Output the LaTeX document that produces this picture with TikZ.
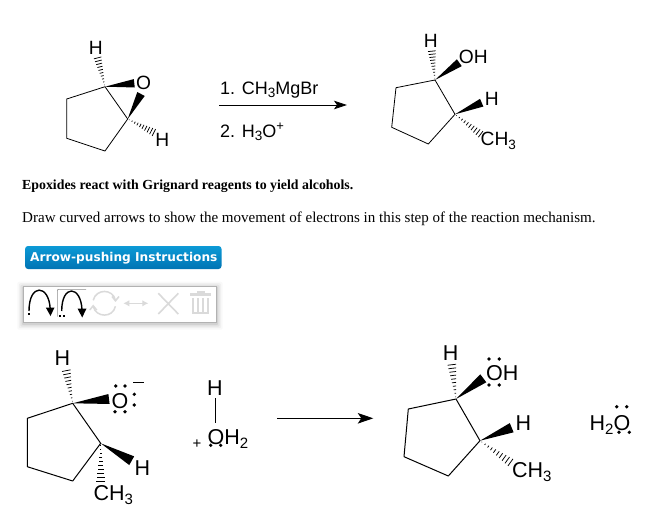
\documentclass[tikz,border=0pt]{standalone}
\usepackage{fontspec}
\setmainfont{Liberation Serif}
\newfontfamily\chemfont{Liberation Sans}
\newfontfamily\btnfont{DejaVu Sans}
\usetikzlibrary{calc,arrows.meta}
\definecolor{btnTop}{HTML}{0C9AD6}
\definecolor{btnBot}{HTML}{0074B4}
\definecolor{iconGray}{HTML}{DADADA}
\newcommand{\sbs}[1]{\raisebox{-3.5pt}{\fontsize{13.5}{13.5}\selectfont #1}}
\newcommand{\sbb}[1]{\raisebox{-4pt}{\fontsize{15}{15}\selectfont #1}}
\newcommand{\sps}[1]{\raisebox{6.5pt}{\fontsize{13}{13}\selectfont #1}}
\newcommand{\wedgebond}[3]{\fill ($(#2)!#3!90:(#1)$) -- (#1) -- ($(#2)!#3!-90:(#1)$) -- cycle;}
\newcommand{\hashbond}[3]{\foreach \t in {0.06,0.16,...,1.01}{\draw[line width=0.75pt]
  ($(#1)!\t!(#2)!\t*#3!90:(#2)$) -- ($(#1)!\t!(#2)!\t*#3!-90:(#2)$);}}
\newcommand{\lp}[2]{\fill (#1,#2) circle (1.85pt);}
\tikzset{
  x=1pt,y=-1pt,
  atomlabel/.style={inner sep=0pt,text height=13.6pt,text depth=0pt,font=\chemfont\fontsize{19.2}{19.2}\selectfont},
  atomlarge/.style={inner sep=0pt,text height=15.2pt,text depth=0pt,font=\chemfont\fontsize{21.5}{21.5}\selectfont},
  reagent/.style={anchor=west,inner sep=0pt,text height=12.9pt,text depth=0pt,font=\chemfont\fontsize{18}{18}\selectfont},
  bond/.style={line width=0.8pt,line join=round},
  bondlarge/.style={line width=1pt,line join=round},
  topcarrow/.style={line width=0.8pt,-{Stealth[length=13pt,width=8.5pt,inset=3pt]}},
  reactarrow/.style={line width=1.1pt,-{Stealth[length=15.5pt,width=10.5pt,inset=3.5pt]}},
  bodytext/.style={anchor=base west,inner sep=0pt},
  iconblack/.style={line width=1.4pt},
  icongray/.style={draw=iconGray,line width=1.5pt}
}
\begin{document}
\begin{tikzpicture}
\useasboundingbox (0,0) rectangle (655,524);
\fill[white] (0,0) rectangle (655,524);

% --- top left epoxide
\coordinate (a1) at (105,86.7); \coordinate (a2) at (127.7,119); \coordinate (a3) at (105,151);
\coordinate (a4) at (66.7,138.3); \coordinate (a5) at (66.7,99);
\coordinate (a1h) at (97.3,56.7); \coordinate (a2h) at (155,133);
\coordinate (a1o) at (134.3,83.3); \coordinate (a2o) at (141,94);
\node[atomlabel] (aH1) at (95.7,47.7) {H};
\node[atomlabel] (aO) at (143.7,82.7) {O};
\node[atomlabel] (aH2) at (162.3,139.3) {H};
\draw[bond] (a1)--(a2)--(a3)--(a4)--(a5)--cycle;
\wedgebond{a1}{a1o}{4.2pt}
\wedgebond{a2}{a2o}{4.2pt}
\hashbond{a1}{a1h}{4pt}
\hashbond{a2}{a2h}{4pt}

% --- reaction conditions
\node[reagent] (r1) at (220,88) {1. CH\sbs{3}MgBr};
\node[reagent] (r2) at (220,131) {2. H\sbs{3}O\sps{+}};
\coordinate (ar1) at (219,105); \coordinate (ar2) at (347,105);
\draw[topcarrow] (ar1) -- (ar2);

% --- top right product
\coordinate (b1) at (435,80); \coordinate (b2) at (455,114.3); \coordinate (b3) at (428.3,144);
\coordinate (b4) at (391.7,127.3); \coordinate (b5) at (396,87.7);
\coordinate (b1h) at (431.7,50); \coordinate (b1o) at (459.3,62.7);
\coordinate (b2h) at (481.7,102.7); \coordinate (b2c) at (481.7,135);
\node[atomlabel] (bH1) at (430.7,40.7) {H};
\node[atomlabel] (bOH) at (473.3,56.7) {OH};
\node[atomlabel] (bH2) at (491.7,99) {H};
\node[atomlabel] (bCH3) at (498.3,139) {CH\sbs{3}};
\draw[bond] (b1)--(b2)--(b3)--(b4)--(b5)--cycle;
\wedgebond{b1}{b1o}{4.2pt}
\wedgebond{b2}{b2h}{4.2pt}
\hashbond{b1}{b1h}{4pt}
\hashbond{b2}{b2c}{4pt}

% --- text
\node[bodytext,font=\bfseries\fontsize{13.85}{14}\selectfont] (t1) at (22,189.5) {Epoxides react with Grignard reagents to yield alcohols.};
\node[bodytext,font=\fontsize{15.05}{15}\selectfont] (t2) at (22,222.3) {Draw curved arrows to show the movement of electrons in this step of the reaction mechanism.};

% --- button
\node[draw=none,rounded corners=3pt,minimum width=196.5pt,minimum height=23pt,inner sep=0pt,
  top color=btnTop,bottom color=btnBot] (btn) at (123.3,257.5) {};
\node[text=white,inner sep=0pt,font=\btnfont\bfseries\fontsize{12.15}{12}\selectfont] (btntext) at (123.8,258.3) {Arrow-pushing Instructions};

% --- toolbar
\foreach \s/\o in {6/0.025,4.5/0.035,3/0.05,1.5/0.07}{
  \fill[black,opacity=\o,rounded corners=2pt] (23.3-\s,286.7-\s+1) rectangle (216.7+\s,322.7+\s+1);
}
\draw[fill=white,draw=black!30,line width=0.8pt] (23.3,286.7) rectangle (216.7,322.7);
\draw[draw=black!45,line width=0.6pt,rounded corners=1pt] (57.3,316.7) -- (57.3,289.3) -- (86,289.3);
% icon 1
\draw[iconblack] (29,311) .. controls (29,283) and (49,284) .. (50.2,309);
\fill (45.8,307.5) -- (54.5,307.5) -- (50.5,316) -- cycle;
\fill (28,313) rectangle (30,315);
% icon 2
\draw[iconblack] (61.7,311) .. controls (61.7,284) and (81,285) .. (82,310);
\fill (77.5,308.5) -- (86.5,308.5) -- (82.2,317.5) -- cycle;
\fill (59,315) rectangle (61,317);
\fill (62.5,315) rectangle (64.5,317);
% circular icon
\draw[icongray] (115.4,300.3) .. controls (113,288.5) and (96,288.5) .. (93.2,300.3);
\draw[icongray] (93.2,306.3) .. controls (96,318) and (113,318) .. (115.4,306.3);
\draw[icongray] (112,296.5) -- (115.5,300.8) -- (119,296.5);
\draw[icongray] (89.7,310) -- (93.2,305.8) -- (96.7,310);
% resonance icon
\draw[icongray,{Latex[length=6pt,width=6.5pt,fill=iconGray]}-{Latex[length=6pt,width=6.5pt,fill=iconGray]}] (123.3,303.3) -- (148.3,303.3);
% cross icon
\draw[icongray,line width=1.6pt] (158.3,293.3) -- (178.3,314) (178.3,293.3) -- (158.3,314);
% trash icon
\fill[iconGray] (190,293.3) rectangle (211,295.6);
\fill[iconGray] (196.5,291.2) rectangle (204.5,293.3);
\foreach \bx in {192,197,202,207}{\fill[iconGray] (\bx,297.5) rectangle (\bx+2.2,314);}
\fill[iconGray] (192,312) rectangle (209.2,314.3);

% --- bottom left alkoxide
\coordinate (c1) at (72.7,403.3); \coordinate (c2) at (100.7,443.3); \coordinate (c3) at (72.7,481);
\coordinate (c4) at (27.3,466.7); \coordinate (c5) at (27.3,418.3);
\coordinate (c1h) at (66,369.3); \coordinate (c1o) at (109,399);
\coordinate (c2h) at (131.7,460.7); \coordinate (c2c) at (100.7,483.3);
\node[atomlarge] (cH1) at (62.3,358.3) {H};
\node[atomlarge] (cO) at (120,401) {O};
\node[atomlarge] (cH2) at (142.3,468.3) {H};
\node[atomlarge] (cCH3) at (113.3,493.3) {CH\sbb{3}};
\draw[bondlarge] (c1)--(c2)--(c3)--(c4)--(c5)--cycle;
\wedgebond{c1}{c1o}{5pt}
\wedgebond{c2}{c2h}{5pt}
\hashbond{c1}{c1h}{4.5pt}
\hashbond{c2}{c2c}{4.5pt}
\lp{115.7}{386}\lp{125}{386}\lp{134.3}{394.3}\lp{134.3}{405}\lp{115}{411.7}\lp{125}{411.7}
\coordinate (m1) at (133.3,382.7); \coordinate (m2) at (144.3,382.7);
\draw[line width=0.6pt] (m1) -- (m2);

% --- hydronium
\node[atomlarge] (dH) at (215,388.3) {H};
\node[atomlarge] (dOH) at (228,436.7) {OH\sbb{2}};
\node[inner sep=0pt,text height=10pt,text depth=0pt,font=\chemfont\fontsize{15}{15}\selectfont] (dP) at (197,443) {+};
\coordinate (dO) at (215.7,423.3); \coordinate (dHb) at (215.7,398.3);
\draw[line width=0.9pt] (dHb) -- (dO);
\lp{210.7}{445.3}\lp{220.7}{445.3}

% --- bottom arrow
\coordinate (ar3) at (277.3,418.3); \coordinate (ar4) at (373.3,418.3);
\draw[reactarrow] (ar3) -- (ar4);

% --- bottom right product
\coordinate (e1) at (456,399); \coordinate (e2) at (480,440.7); \coordinate (e3) at (448.3,476);
\coordinate (e4) at (404,456.7); \coordinate (e5) at (408.3,409);
\coordinate (e1h) at (451.7,363.3); \coordinate (e1o) at (483.3,378.3);
\coordinate (e2h) at (511.7,427.7); \coordinate (e2c) at (511.7,463.3);
\node[atomlarge] (eH1) at (450.7,353.3) {H};
\node[atomlarge] (eOH) at (502.3,373.3) {OH};
\node[atomlarge] (eH2) at (523.3,423.3) {H};
\node[atomlarge] (eCH3) at (531.7,470) {CH\sbb{3}};
\draw[bondlarge] (e1)--(e2)--(e3)--(e4)--(e5)--cycle;
\wedgebond{e1}{e1o}{5pt}
\wedgebond{e2}{e2h}{5pt}
\hashbond{e1}{e1h}{4.5pt}
\hashbond{e2}{e2c}{4.5pt}
\lp{489}{359}\lp{499.3}{359}\lp{489}{385}\lp{499.3}{385}

% --- water
\node[atomlarge] (wat) at (610,422.7) {H\sbb{2}O};
\lp{616.7}{406.7}\lp{626.7}{406.7}\lp{619}{432.3}\lp{629.3}{432.3}
\end{tikzpicture}
\end{document}
